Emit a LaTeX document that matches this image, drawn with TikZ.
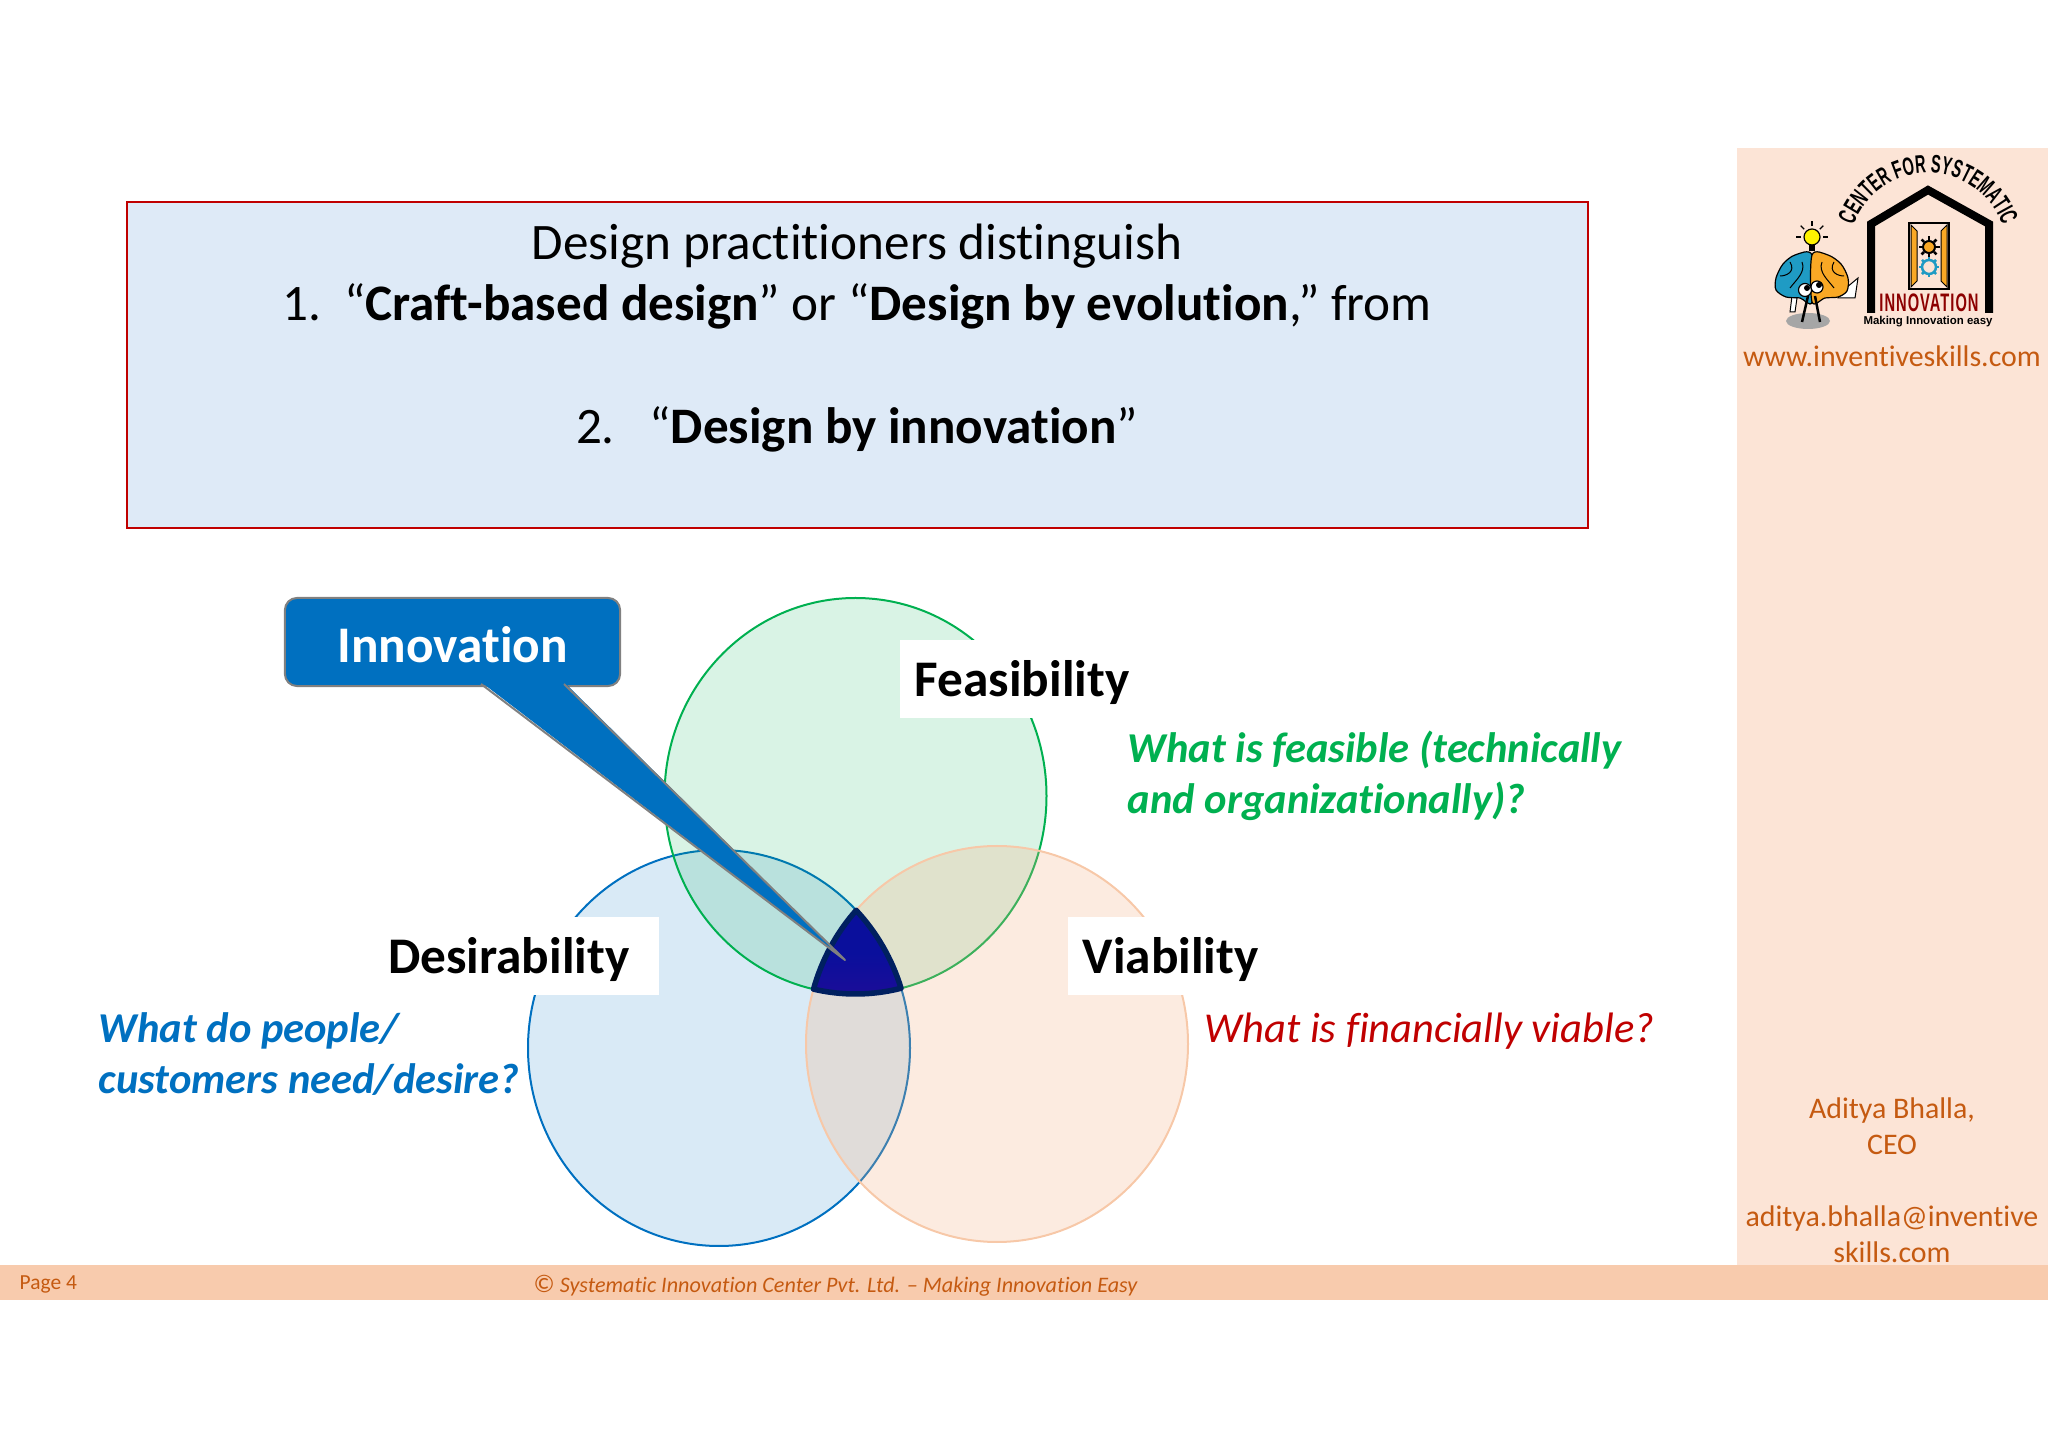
\documentclass[tikz,border=0pt]{standalone}
\usepackage{fontspec}
\setmainfont[Ligatures=NoCommon]{Carlito}
\newfontfamily\logofont[FakeStretch=0.58]{Liberation Sans}
\newfontfamily\tagfont{Liberation Sans}
\usetikzlibrary{decorations.text}

\definecolor{boxfill}{HTML}{DEEAF7}
\definecolor{boxline}{HTML}{C00000}
\definecolor{calloutblue}{HTML}{0070C0}
\definecolor{greenmark}{HTML}{00B050}
\definecolor{peachmark}{HTML}{F4B183}
\definecolor{redmark}{HTML}{C00000}
\definecolor{panelfill}{HTML}{FCE4D6}
\definecolor{barfill}{HTML}{F8CBAD}
\definecolor{rust}{HTML}{C55A11}
\definecolor{corefill}{HTML}{0A0F9C}
\definecolor{coreline}{HTML}{002060}
\definecolor{brainblue}{HTML}{1F9BC4}
\definecolor{brainorange}{HTML}{F9A825}

\begin{document}
\begin{tikzpicture}[x=0.01cm,y=0.01cm,>=stealth,inner sep=0pt]

  \tikzstyle{labelbox}=[fill=white,text=black,font=\fontsize{14.6}{17}\selectfont\bfseries,minimum height=0.77cm,inner xsep=0.15cm,text height=0.40cm,text depth=0.048cm]
  \tikzstyle{venn}=[line width=0.02cm,fill opacity=0.15]
  \tikzstyle{question}=[font=\fontsize{12.1}{14.5}\selectfont\bfseries\itshape,align=left,anchor=west]
  \tikzstyle{contact}=[text=rust,font=\fontsize{8.5}{10.25}\selectfont,align=center]
  \tikzstyle{calloutedge}=[draw=gray,line width=0.02cm,line join=round]

  \useasboundingbox (0,0) rectangle (2048,1448);

  % side panel and footer
  \fill[panelfill] (1737,183) rectangle (2048,1300);
  \fill[barfill] (0,148) rectangle (2048,183);
  \node[text=rust,font=\fontsize{6.1}{7}\selectfont,anchor=west] (page) at (19,163.5) {Page 4};
  \node[text=rust,font=\fontsize{6.3}{7}\selectfont\itshape,anchor=west] (copy) at (533,162) {{\upshape\fontsize{7.2}{7}\selectfont ©} Systematic Innovation Center Pvt. Ltd. – Making Innovation Easy};

  % heading box
  \node[draw=boxline,fill=boxfill,line width=0.02cm,minimum width=14.61cm,minimum height=3.26cm] (heading) at (857.5,1083) {};
  \node[align=center,font=\fontsize{14.55}{17.5}\selectfont] (headtext) at (857,1110)
    {Design practitioners distinguish\\
     1.\ \ “\textbf{Craft-based design}” or “\textbf{Design by evolution},” from\\[17.5pt]
     2.\ \ \ “\textbf{Design by innovation}”};

  % the three circles
  \draw[venn,draw=calloutblue,fill=calloutblue] (719,400) ellipse [x radius=191,y radius=198];
  \draw[venn,draw=greenmark,fill=greenmark] (855.5,652) ellipse [x radius=191,y radius=198];
  \draw[venn,draw=peachmark!70!white,fill=peachmark,fill opacity=0.25] (997,404) ellipse [x radius=191,y radius=198];

  \node[labelbox,anchor=west] (feasibility) at (899,769) {Feasibility};
  \node[labelbox,anchor=west] (viability) at (1067,492) {Viability};
  \node[labelbox,anchor=east,inner xsep=0.3cm] (desirability) at (660,492) {Desirability};

  \node[question,text=greenmark] (feasibleq) at (1127,672) {What is feasible (technically\\and organizationally)?};
  \node[question,text=redmark,font=\fontsize{12.1}{14.5}\selectfont\itshape] (viableq) at (1204,417) {What is financially viable?};
  \node[question,text=calloutblue] (desireq) at (98,394) {What do people/\\customers need/desire?};

  % common part of the three circles
  \path[draw=coreline,line width=0.055cm,line join=round,top color=corefill,bottom color=corefill!85!violet,middle color=corefill]
    (856.2,537.7) arc [start angle=137.5,end angle=163.9,x radius=191,y radius=198]
    arc [start angle=257.3,end angle=283.8,x radius=191,y radius=198]
    arc [start angle=17.6,end angle=44.1,x radius=191,y radius=198] -- cycle;

  % callout
  \node[fill=calloutblue,draw=gray,line width=0.02cm,rounded corners=0.12cm,minimum width=3.35cm,minimum height=0.88cm,text=white,text height=0.42cm,text depth=0.018cm,font=\fontsize{14.6}{17}\selectfont\bfseries] (innovation) at (452.5,806) {Innovation};
  \coordinate (tailleft) at (481,764);
  \coordinate (tailright) at (564,764);
  \coordinate (tailtip) at (845,488);
  \fill[calloutblue] (481,766) -- (tailtip) -- (564,766) -- cycle;
  \draw[calloutedge] (tailleft) -- (tailtip) -- (tailright);

  % logo: arc of letters and house
  \path[decorate,decoration={text along path,text align=center,
    text={|\logofont\bfseries\fontsize{7.2}{8}\selectfont|CENTER FOR SYSTEMATIC}}]
    (1928,1196) ++(178:79) arc [start angle=178,end angle=2,radius=79];
  \draw[line width=0.08cm,miter limit=4] (1871,1135) -- (1871,1224) -- (1928,1258) -- (1989,1224) -- (1989,1135);

  % logo: door and gears
  \draw[line width=0.025cm,fill=panelfill] (1909,1159) rectangle (1949,1225);
  \draw[line width=0.01cm,fill=brainorange] (1911,1223) -- (1917,1217) -- (1917,1167) -- (1911,1161) -- cycle;
  \draw[line width=0.01cm,fill=brainorange] (1947,1223) -- (1941,1217) -- (1941,1167) -- (1947,1161) -- cycle;
  \foreach \a in {0,45,...,315} {
    \draw[line width=0.025cm] (1929,1201) ++(\a:7) -- ++(\a:3.5);
    \draw[line width=0.025cm,brainblue] (1929,1181) ++(\a:7) -- ++(\a:3);
  }
  \draw[line width=0.02cm,fill=brainorange] (1929,1201) circle (6);
  \draw[line width=0.025cm,brainblue] (1929,1181) circle (7);
  \node[text=red!55!black,font=\logofont\bfseries\fontsize{7.2}{9}\selectfont\addfontfeature{LetterSpace=4}] (innovword) at (1929,1145) {INNOVATION};
  \node[font=\tagfont\bfseries\fontsize{3.25}{4}\selectfont] (tagline) at (1928,1126) {Making Innovation easy};

  % logo: brain figure
  \fill[gray!70] (1808,1127) ellipse [x radius=22,y radius=8];
  \draw[line width=0.01cm,fill=white] (1840,1155) -- (1858,1170) -- (1855,1150) -- (1838,1150) -- cycle;
  \draw[line width=0.01cm,fill=white] (1792,1152) -- (1790,1136) -- (1795,1136) -- (1797,1150) -- cycle;
  \draw[line width=0.012cm,fill=brainblue] plot [smooth cycle] coordinates {(1812,1193) (1795,1193) (1783,1184) (1776,1170) (1776,1158) (1786,1151) (1800,1150) (1812,1146)};
  \draw[line width=0.012cm,fill=brainorange] plot [smooth cycle] coordinates {(1812,1193) (1828,1193) (1841,1184) (1848,1170) (1847,1157) (1838,1151) (1825,1150) (1812,1146)};
  \draw[line width=0.01cm] (1790,1186) .. controls (1796,1176) and (1786,1172) .. (1780,1172);
  \draw[line width=0.01cm] (1802,1186) .. controls (1806,1176) and (1796,1168) .. (1790,1160);
  \draw[line width=0.01cm] (1834,1186) .. controls (1828,1176) and (1838,1172) .. (1844,1172);
  \draw[line width=0.01cm] (1822,1186) .. controls (1818,1176) and (1828,1168) .. (1834,1160);
  \draw[line width=0.025cm] (1808,1152) -- (1802,1126);
  \draw[line width=0.025cm] (1815,1152) -- (1820,1126);
  \draw[line width=0.012cm,fill=white] (1805,1158) circle (6.5);
  \draw[line width=0.012cm,fill=white] (1817,1161) circle (6);
  \fill (1807,1160) circle (3);
  \fill (1819,1163) circle (3);
  \fill (1809,1197) rectangle (1815,1203);
  \draw[line width=0.012cm,fill=yellow] (1812,1211) circle (8);
  \foreach \a in {0,45,...,180}
    \draw[line width=0.012cm] (1812,1211) ++(\a:11) -- ++(\a:5);

  % side panel text
  \node[contact] (website) at (1892,1092) {www.inventiveskills.com};
  \node[contact] (person) at (1892,268) {Aditya Bhalla,\\CEO\\[10.25pt]aditya.bhalla@inventive\\skills.com};

\end{tikzpicture}
\end{document}
